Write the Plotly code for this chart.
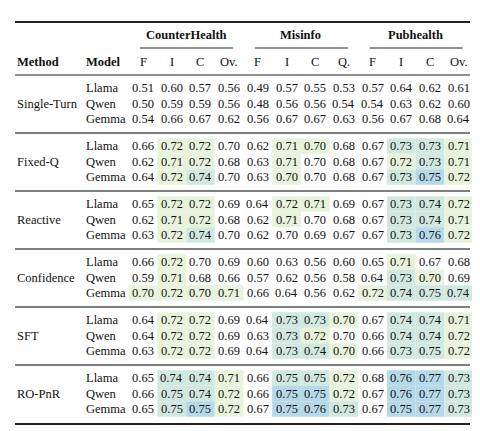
import plotly.graph_objects as go

# Data
datasets = ["CounterHealth", "Misinfo", "Pubhealth"]
columns = ["F", "I", "C", "Ov.", "F", "I", "C", "Q.", "F", "I", "C", "Ov."]
methods = ["Single-Turn", "Fixed-Q", "Reactive", "Confidence", "SFT", "RO-PnR"]
models = ["Llama", "Qwen", "Gemma"]

single_turn = [[0.51, 0.60, 0.57, 0.56, 0.49, 0.57, 0.55, 0.53, 0.57, 0.64, 0.62, 0.61],
               [0.50, 0.59, 0.59, 0.56, 0.48, 0.56, 0.56, 0.54, 0.54, 0.63, 0.62, 0.60],
               [0.54, 0.66, 0.67, 0.62, 0.56, 0.67, 0.67, 0.63, 0.56, 0.67, 0.68, 0.64]]
fixed_q = [[0.66, 0.72, 0.72, 0.70, 0.62, 0.71, 0.70, 0.68, 0.67, 0.73, 0.73, 0.71],
           [0.62, 0.71, 0.72, 0.68, 0.63, 0.71, 0.70, 0.68, 0.67, 0.72, 0.73, 0.71],
           [0.64, 0.72, 0.74, 0.70, 0.63, 0.70, 0.70, 0.68, 0.67, 0.73, 0.75, 0.72]]
reactive = [[0.65, 0.72, 0.72, 0.69, 0.64, 0.72, 0.71, 0.69, 0.67, 0.73, 0.74, 0.72],
            [0.62, 0.71, 0.72, 0.68, 0.62, 0.71, 0.70, 0.68, 0.67, 0.73, 0.74, 0.71],
            [0.63, 0.72, 0.74, 0.70, 0.62, 0.70, 0.69, 0.67, 0.67, 0.73, 0.76, 0.72]]
confidence = [[0.66, 0.72, 0.70, 0.69, 0.60, 0.63, 0.56, 0.60, 0.65, 0.71, 0.67, 0.68],
              [0.59, 0.71, 0.68, 0.66, 0.57, 0.62, 0.56, 0.58, 0.64, 0.73, 0.70, 0.69],
              [0.70, 0.72, 0.70, 0.71, 0.66, 0.64, 0.56, 0.62, 0.72, 0.74, 0.75, 0.74]]
sft = [[0.64, 0.72, 0.72, 0.69, 0.64, 0.73, 0.73, 0.70, 0.67, 0.74, 0.74, 0.71],
       [0.64, 0.72, 0.72, 0.69, 0.63, 0.73, 0.72, 0.70, 0.66, 0.74, 0.74, 0.72],
       [0.63, 0.72, 0.72, 0.69, 0.64, 0.73, 0.74, 0.70, 0.66, 0.73, 0.75, 0.72]]
ro_pnr = [[0.65, 0.74, 0.74, 0.71, 0.66, 0.75, 0.75, 0.72, 0.68, 0.76, 0.77, 0.73],
          [0.66, 0.75, 0.74, 0.72, 0.66, 0.75, 0.75, 0.72, 0.67, 0.76, 0.77, 0.73],
          [0.65, 0.75, 0.75, 0.72, 0.67, 0.75, 0.76, 0.73, 0.67, 0.75, 0.77, 0.73]]
values = [single_turn, fixed_q, reactive, confidence, sft, ro_pnr]

# shading tier per cell (0 none, 1 green, 2 teal, 3 blue)
tiers = [
    [[0] * 12, [0] * 12, [0] * 12],
    [[0, 1, 1, 0, 0, 1, 1, 0, 0, 2, 2, 1],
     [0, 1, 1, 0, 0, 1, 0, 0, 0, 1, 2, 1],
     [0, 1, 2, 0, 0, 1, 0, 0, 0, 2, 3, 1]],
    [[0, 1, 1, 0, 0, 1, 1, 0, 0, 2, 2, 1],
     [0, 1, 1, 0, 0, 1, 0, 0, 0, 2, 2, 1],
     [0, 1, 2, 0, 0, 0, 0, 0, 0, 2, 3, 1]],
    [[0, 1, 0, 0, 0, 0, 0, 0, 0, 1, 0, 0],
     [0, 1, 0, 0, 0, 0, 0, 0, 0, 2, 1, 0],
     [1, 1, 1, 1, 0, 0, 0, 0, 1, 2, 2, 2]],
    [[0, 1, 1, 0, 0, 2, 2, 1, 0, 2, 2, 1],
     [0, 1, 1, 0, 0, 2, 1, 0, 0, 2, 2, 1],
     [0, 1, 1, 0, 0, 2, 2, 1, 0, 2, 2, 1]],
    [[0, 2, 2, 1, 0, 2, 2, 1, 0, 3, 3, 2],
     [0, 2, 2, 1, 0, 3, 3, 1, 0, 3, 3, 2],
     [0, 2, 3, 1, 0, 3, 3, 2, 0, 3, 3, 2]],
]

tier_colors = [None, "#e8f3dc", "#d1e8e1", "#b5d9e9"]
font = "Liberation Serif"

# Layout geometry (pixels)
col_x0, col_w = 143, 28.7
row_y0, row_h, group_h = 88, 15.5, 58
page_offset = 8  # body margin of the html page

fig = go.Figure()
shapes = []
annotations = []


def text(x, y, s, bold=False, anchor="center", size=12.5):
    annotations.append(dict(x=x, y=y, text="<b>%s</b>" % s if bold else s, showarrow=False,
                            xanchor=anchor, yanchor="middle",
                            font=dict(family=font, size=size, color="#111")))


for g, method in enumerate(methods):
    for r, model in enumerate(models):
        y = row_y0 + g * group_h + r * row_h
        text(84, y, model, anchor="left")
        for c in range(12):
            x = col_x0 + c * col_w
            tier = tiers[g][r][c]
            if tier:
                shapes.append(dict(type="rect", x0=x - col_w / 2, x1=x + col_w / 2,
                                   y0=y - row_h / 2, y1=y + row_h / 2,
                                   fillcolor=tier_colors[tier], line_width=0, layer="below"))
            text(x, y, "%.2f" % values[g][r][c])
    text(15, row_y0 + g * group_h + row_h, method, anchor="left")
    if g > 0:
        sy = row_y0 + g * group_h - 13
        shapes.append(dict(type="line", x0=15, x1=470, y0=sy, y1=sy,
                           line=dict(color="#555", width=1.5)))

# Headers
text(15, 62, "Method", bold=True, anchor="left")
text(84, 62, "Model", bold=True, anchor="left")
for c, name in enumerate(columns):
    text(col_x0 + c * col_w, 62, name)
for d, name in enumerate(datasets):
    left = col_x0 + 4 * d * col_w
    right = left + 3 * col_w
    text((left + right) / 2, 35, name, bold=True)
    shapes.append(dict(type="line", x0=left - 3, x1=right + 4, y0=48, y1=48,
                       line=dict(color="#222", width=1)))

for y, w in [(22, 1.8), (75, 1), (424, 1.8)]:
    shapes.append(dict(type="line", x0=15, x1=470, y0=y, y1=y, line=dict(color="#222", width=w)))

fig.update_layout(
    width=480, height=431,
    margin=dict(l=0, r=0, t=0, b=0),
    paper_bgcolor="white", plot_bgcolor="white",
    xaxis=dict(range=[page_offset, 480 + page_offset], visible=False, fixedrange=True),
    yaxis=dict(range=[431 + page_offset, page_offset], visible=False, fixedrange=True),
    shapes=shapes, annotations=annotations, showlegend=False,
)

fig.write_html("out.html")
